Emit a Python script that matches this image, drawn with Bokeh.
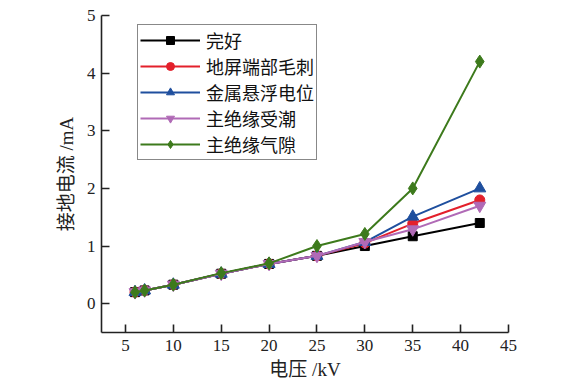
from bokeh.plotting import figure
from bokeh.models import Range1d, FixedTicker, Legend, LegendItem
from bokeh.embed import file_html
from bokeh.resources import INLINE

# Test voltages (kV) and grounding currents (mA) for each defect type
voltage = [6, 7, 10, 15, 20, 25, 30, 35, 42]
intact = [0.20, 0.23, 0.33, 0.52, 0.69, 0.83, 1.00, 1.17, 1.40]
burr = [0.20, 0.23, 0.33, 0.52, 0.69, 0.83, 1.05, 1.39, 1.80]
floating = [0.20, 0.23, 0.33, 0.52, 0.69, 0.83, 1.07, 1.51, 2.00]
damp = [0.20, 0.23, 0.33, 0.52, 0.69, 0.83, 1.07, 1.29, 1.70]
air_gap = [0.20, 0.23, 0.33, 0.53, 0.70, 1.00, 1.21, 2.00, 4.20]

names = ["完好", "地屏端部毛刺", "金属悬浮电位", "主绝缘受潮", "主绝缘气隙"]
x_ticks = [5, 10, 15, 20, 25, 30, 35, 40, 45]
y_ticks = [0, 1, 2, 3, 4, 5]

FONT = "'Liberation Serif', 'Noto Sans CJK SC'"

p = figure(width=576, height=387, output_backend="svg", toolbar_location=None,
           x_range=Range1d(2.5, 45), y_range=Range1d(-0.5, 5),
           min_border_left=101, min_border_right=68,
           min_border_top=15, min_border_bottom=55)
p.outline_line_color = None
p.grid.grid_line_color = None
p.background_fill_color = "white"
p.border_fill_color = "white"

for ax in (p.xaxis[0], p.yaxis[0]):
    ax.axis_line_color = "#222222"
    ax.axis_line_width = 1.6
    ax.major_tick_line_color = "#222222"
    ax.major_tick_line_width = 1.6
    ax.major_tick_in = 8
    ax.major_tick_out = 0
    ax.minor_tick_line_color = None
    ax.major_label_text_font = FONT
    ax.major_label_text_font_size = "17px"
    ax.major_label_text_color = "#222222"
    ax.axis_label_text_font = FONT
    ax.axis_label_text_font_size = "19px"
    ax.axis_label_text_font_style = "normal"
    ax.axis_label_text_color = "#222222"

p.xaxis.ticker = FixedTicker(ticks=x_ticks)
p.yaxis.ticker = FixedTicker(ticks=y_ticks)
p.xaxis.axis_label = "电压 /kV"
p.yaxis.axis_label = "接地电流 /mA"
p.xaxis.major_label_standoff = 7
p.yaxis.major_label_standoff = 6
p.xaxis.axis_label_standoff = 5
p.yaxis.axis_label_standoff = 7

series = [
    (intact, "#000000", "square", 9),
    (burr, "#e3202b", "circle", 10),
    (floating, "#1f4f9e", "triangle", 12),
    (damp, "#b06ab6", "inverted_triangle", 12),
    (air_gap, "#3d7a1c", "diamond", 13),
]

items = []
for (ys, color, marker, size), name in zip(series, names):
    ln = p.line(voltage, ys, line_color=color, line_width=2)
    mk = p.scatter(voltage, ys, marker=marker, size=size,
                   fill_color=color, line_color=color)
    items.append(LegendItem(label=name, renderers=[ln, mk]))

legend = Legend(items=items, location=(36, 172))
legend.label_text_font = FONT
legend.label_text_font_size = "18px"
legend.label_text_color = "#111111"
legend.border_line_color = "#111111"
legend.border_line_width = 1.5
legend.padding = 2
legend.spacing = 0
legend.glyph_width = 60
legend.glyph_height = 20
legend.label_height = 20
legend.label_standoff = 6
legend.margin = 0
legend.background_fill_alpha = 1
p.add_layout(legend, "center")

open("out.html", "w").write(file_html(p, INLINE))
